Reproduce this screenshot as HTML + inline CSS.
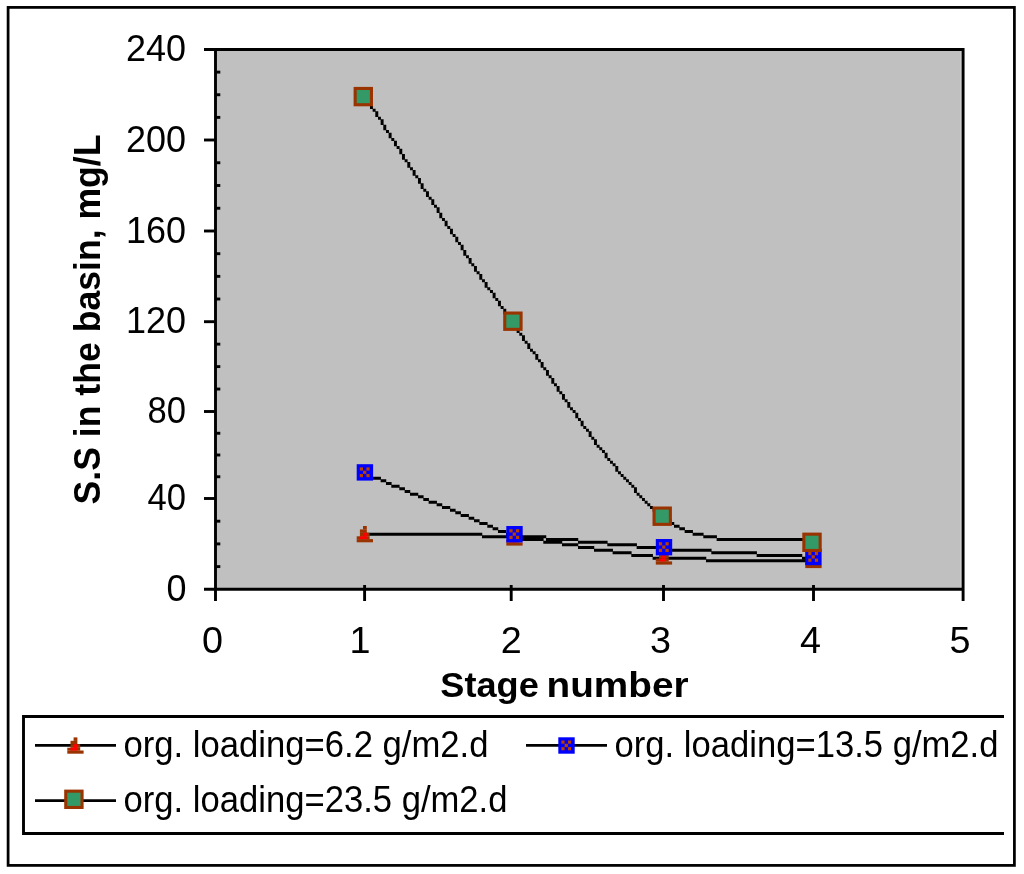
<!DOCTYPE html>
<html lang="en"><head><meta charset="utf-8"><title>S.S in the basin vs stage number</title>
<style>html,body{margin:0;padding:0;background:#fff}svg{display:block}</style></head>
<body>
<svg width="1024" height="874" viewBox="0 0 1024 874">
<rect width="1024" height="874" fill="#fff"/>
<rect x="8.1" y="7.4" width="1006.3" height="858" fill="none" stroke="#000" stroke-width="2.75"/>
<rect x="215.50" y="49.50" width="747.60" height="539.80" fill="#c0c0c0"/>
<rect x="960.5" y="51" width="1.2" height="537" fill="#d6d6d6"/>
<g stroke="#000" stroke-width="2.90" fill="none">
<path d="M204 49.50H963.10V601"/>
<path d="M215.50 48.05V601"/>
<path d="M204 589.30H963.10"/>
<path d="M204 140.00H215.50"/>
<path d="M204 231.00H215.50"/>
<path d="M204 321.70H215.50"/>
<path d="M204 411.50H215.50"/>
<path d="M204 498.50H215.50"/>
<path d="M215.50 566.60H220.3"/>
<path d="M215.50 543.90H220.3"/>
<path d="M215.50 521.20H220.3"/>
<path d="M215.50 476.75H220.3"/>
<path d="M215.50 455.00H220.3"/>
<path d="M215.50 433.25H220.3"/>
<path d="M215.50 389.05H220.3"/>
<path d="M215.50 366.60H220.3"/>
<path d="M215.50 344.15H220.3"/>
<path d="M215.50 299.02H220.3"/>
<path d="M215.50 276.35H220.3"/>
<path d="M215.50 253.68H220.3"/>
<path d="M215.50 208.25H220.3"/>
<path d="M215.50 185.50H220.3"/>
<path d="M215.50 162.75H220.3"/>
<path d="M215.50 117.38H220.3"/>
<path d="M215.50 94.75H220.3"/>
<path d="M215.50 72.12H220.3"/>
<path d="M364.60 585V601"/>
<path d="M511.20 585V601"/>
<path d="M663.50 585V601"/>
<path d="M813.50 585V601"/>
</g>
<path d="M361.97 532.68h120.30v2.97h-120.30zM481.97 535.35h40.30v2.97h-40.30zM521.97 538.02h21.63v2.97h-21.63zM543.30 540.68h18.97v2.97h-18.97zM561.97 543.35h16.30v2.97h-16.30zM577.97 546.02h16.30v2.97h-16.30zM593.97 548.68h18.97v2.97h-18.97zM612.63 551.35h18.97v2.97h-18.97zM631.30 554.02h21.63v2.97h-21.63zM652.63 556.68h53.63v2.97h-53.63zM705.97 559.35h109.63v2.97h-109.63z" fill="#000"/>
<rect x="363.00" y="526.00" width="3.80" height="3.50" fill="#993300"/><rect x="359.90" y="529.40" width="6.90" height="3.50" fill="#993300"/><rect x="359.90" y="532.80" width="9.70" height="3.60" fill="#993300"/><rect x="356.70" y="536.30" width="12.90" height="2.90" fill="#993300"/><rect x="356.70" y="539.10" width="16.30" height="3.20" fill="#993300"/><rect x="363.00" y="532.80" width="3.80" height="3.60" fill="#ff0000"/><rect x="359.90" y="536.30" width="6.90" height="2.85" fill="#ff0000"/>
<rect x="512.60" y="529.30" width="3.80" height="3.50" fill="#993300"/><rect x="509.50" y="532.70" width="6.90" height="3.50" fill="#993300"/><rect x="509.50" y="536.10" width="9.70" height="3.60" fill="#993300"/><rect x="506.30" y="539.60" width="12.90" height="2.90" fill="#993300"/><rect x="506.30" y="542.40" width="16.30" height="3.20" fill="#993300"/><rect x="512.60" y="536.10" width="3.80" height="3.60" fill="#ff0000"/><rect x="509.50" y="539.60" width="6.90" height="2.85" fill="#ff0000"/>
<rect x="662.10" y="548.30" width="3.80" height="3.50" fill="#993300"/><rect x="659.00" y="551.70" width="6.90" height="3.50" fill="#993300"/><rect x="659.00" y="555.10" width="9.70" height="3.60" fill="#993300"/><rect x="655.80" y="558.60" width="12.90" height="2.90" fill="#993300"/><rect x="655.80" y="561.40" width="16.30" height="3.20" fill="#993300"/><rect x="662.10" y="555.10" width="3.80" height="3.60" fill="#ff0000"/><rect x="659.00" y="558.60" width="6.90" height="2.85" fill="#ff0000"/>
<rect x="811.60" y="551.80" width="3.80" height="3.50" fill="#993300"/><rect x="808.50" y="555.20" width="6.90" height="3.50" fill="#993300"/><rect x="808.50" y="558.60" width="9.70" height="3.60" fill="#993300"/><rect x="805.30" y="562.10" width="12.90" height="2.90" fill="#993300"/><rect x="805.30" y="564.90" width="16.30" height="3.20" fill="#993300"/><rect x="811.60" y="558.60" width="3.80" height="3.60" fill="#ff0000"/><rect x="808.50" y="562.10" width="6.90" height="2.85" fill="#ff0000"/>
<path d="M361.97 471.35h5.63v2.97h-5.63zM367.30 474.02h5.63v2.97h-5.63zM372.63 476.68h8.30v2.97h-8.30zM380.63 479.35h5.63v2.97h-5.63zM385.97 482.02h5.63v2.97h-5.63zM391.30 484.68h8.30v2.97h-8.30zM399.30 487.35h5.63v2.97h-5.63zM404.63 490.02h5.63v2.97h-5.63zM409.97 492.68h8.30v2.97h-8.30zM417.97 495.35h5.63v2.97h-5.63zM423.30 498.02h5.63v2.97h-5.63zM428.63 500.68h8.30v2.97h-8.30zM436.63 503.35h5.63v2.97h-5.63zM441.97 506.02h8.30v2.97h-8.30zM449.97 508.68h5.63v2.97h-5.63zM455.30 511.35h5.63v2.97h-5.63zM460.63 514.02h8.30v2.97h-8.30zM468.63 516.68h5.63v2.97h-5.63zM473.97 519.35h5.63v2.97h-5.63zM479.30 522.02h8.30v2.97h-8.30zM487.30 524.68h5.63v2.97h-5.63zM492.63 527.35h5.63v2.97h-5.63zM497.97 530.02h8.30v2.97h-8.30zM505.97 532.68h10.97v2.97h-10.97zM516.63 535.35h29.63v2.97h-29.63zM545.97 538.02h32.30v2.97h-32.30zM577.97 540.68h29.63v2.97h-29.63zM607.30 543.35h29.63v2.97h-29.63zM636.63 546.02h32.30v2.97h-32.30zM668.63 548.68h42.97v2.97h-42.97zM711.30 551.35h45.63v2.97h-45.63zM756.63 554.02h45.63v2.97h-45.63zM801.97 556.68h13.63v2.97h-13.63z" fill="#000"/>
<rect x="356.70" y="464.20" width="16.40" height="16.40" fill="#0000ff"/><rect x="359.80" y="467.40" width="3.20" height="3.20" fill="#b84000"/><rect x="366.40" y="467.40" width="3.20" height="3.20" fill="#b84000"/><rect x="363.10" y="470.70" width="3.20" height="3.20" fill="#b84000"/><rect x="359.80" y="474.00" width="3.20" height="3.20" fill="#b84000"/><rect x="366.40" y="474.00" width="3.20" height="3.20" fill="#b84000"/>
<rect x="506.30" y="526.00" width="16.40" height="16.40" fill="#0000ff"/><rect x="509.40" y="529.20" width="3.20" height="3.20" fill="#b84000"/><rect x="516.00" y="529.20" width="3.20" height="3.20" fill="#b84000"/><rect x="512.70" y="532.50" width="3.20" height="3.20" fill="#b84000"/><rect x="509.40" y="535.80" width="3.20" height="3.20" fill="#b84000"/><rect x="516.00" y="535.80" width="3.20" height="3.20" fill="#b84000"/>
<rect x="655.80" y="539.00" width="16.40" height="16.40" fill="#0000ff"/><rect x="658.90" y="542.20" width="3.20" height="3.20" fill="#b84000"/><rect x="665.50" y="542.20" width="3.20" height="3.20" fill="#b84000"/><rect x="662.20" y="545.50" width="3.20" height="3.20" fill="#b84000"/><rect x="658.90" y="548.80" width="3.20" height="3.20" fill="#b84000"/><rect x="665.50" y="548.80" width="3.20" height="3.20" fill="#b84000"/>
<rect x="805.20" y="548.80" width="16.40" height="16.40" fill="#0000ff"/><rect x="808.30" y="552.00" width="3.20" height="3.20" fill="#b84000"/><rect x="814.90" y="552.00" width="3.20" height="3.20" fill="#b84000"/><rect x="811.60" y="555.30" width="3.20" height="3.20" fill="#b84000"/><rect x="808.30" y="558.60" width="3.20" height="3.20" fill="#b84000"/><rect x="814.90" y="558.60" width="3.20" height="3.20" fill="#b84000"/>
<path d="M361.97 95.35h2.97v2.97h-2.97zM364.63 98.02h2.97v2.97h-2.97zM367.30 100.68h2.97v2.97h-2.97zM369.97 103.35h2.97v2.97h-2.97zM369.97 106.02h2.97v2.97h-2.97zM372.63 108.68h2.97v2.97h-2.97zM375.30 111.35h2.97v2.97h-2.97zM375.30 114.02h2.97v2.97h-2.97zM377.97 116.68h2.97v2.97h-2.97zM380.63 119.35h2.97v2.97h-2.97zM380.63 122.02h2.97v2.97h-2.97zM383.30 124.68h2.97v2.97h-2.97zM383.30 127.35h2.97v2.97h-2.97zM385.97 130.02h2.97v2.97h-2.97zM388.63 132.68h2.97v2.97h-2.97zM388.63 135.35h2.97v2.97h-2.97zM391.30 138.02h2.97v2.97h-2.97zM393.97 140.68h2.97v2.97h-2.97zM393.97 143.35h2.97v2.97h-2.97zM396.63 146.02h2.97v2.97h-2.97zM399.30 148.68h2.97v2.97h-2.97zM399.30 151.35h2.97v2.97h-2.97zM401.97 154.02h2.97v2.97h-2.97zM401.97 156.68h2.97v2.97h-2.97zM404.63 159.35h2.97v2.97h-2.97zM407.30 162.02h2.97v2.97h-2.97zM407.30 164.68h2.97v2.97h-2.97zM409.97 167.35h2.97v2.97h-2.97zM412.63 170.02h2.97v2.97h-2.97zM412.63 172.68h2.97v2.97h-2.97zM415.30 175.35h2.97v2.97h-2.97zM417.97 178.02h2.97v2.97h-2.97zM417.97 180.68h2.97v2.97h-2.97zM420.63 183.35h2.97v2.97h-2.97zM420.63 186.02h2.97v2.97h-2.97zM423.30 188.68h2.97v2.97h-2.97zM425.97 191.35h2.97v2.97h-2.97zM425.97 194.02h2.97v2.97h-2.97zM428.63 196.68h2.97v2.97h-2.97zM431.30 199.35h2.97v2.97h-2.97zM431.30 202.02h2.97v2.97h-2.97zM433.97 204.68h2.97v2.97h-2.97zM436.63 207.35h2.97v2.97h-2.97zM436.63 210.02h2.97v2.97h-2.97zM439.30 212.68h2.97v2.97h-2.97zM439.30 215.35h2.97v2.97h-2.97zM441.97 218.02h2.97v2.97h-2.97zM444.63 220.68h2.97v2.97h-2.97zM444.63 223.35h2.97v2.97h-2.97zM447.30 226.02h2.97v2.97h-2.97zM449.97 228.68h2.97v2.97h-2.97zM449.97 231.35h2.97v2.97h-2.97zM452.63 234.02h2.97v2.97h-2.97zM455.30 236.68h2.97v2.97h-2.97zM455.30 239.35h2.97v2.97h-2.97zM457.97 242.02h2.97v2.97h-2.97zM460.63 244.68h2.97v2.97h-2.97zM460.63 247.35h2.97v2.97h-2.97zM463.30 250.02h2.97v2.97h-2.97zM463.30 252.68h2.97v2.97h-2.97zM465.97 255.35h2.97v2.97h-2.97zM468.63 258.02h2.97v2.97h-2.97zM468.63 260.68h2.97v2.97h-2.97zM471.30 263.35h2.97v2.97h-2.97zM473.97 266.02h2.97v2.97h-2.97zM473.97 268.68h2.97v2.97h-2.97zM476.63 271.35h2.97v2.97h-2.97zM479.30 274.02h2.97v2.97h-2.97zM479.30 276.68h2.97v2.97h-2.97zM481.97 279.35h2.97v2.97h-2.97zM484.63 282.02h2.97v2.97h-2.97zM484.63 284.68h2.97v2.97h-2.97zM487.30 287.35h2.97v2.97h-2.97zM489.97 290.02h2.97v2.97h-2.97zM492.63 292.68h2.97v2.97h-2.97zM492.63 295.35h2.97v2.97h-2.97zM495.30 298.02h2.97v2.97h-2.97zM497.97 300.68h2.97v2.97h-2.97zM497.97 303.35h2.97v2.97h-2.97zM500.63 306.02h2.97v2.97h-2.97zM503.30 308.68h2.97v2.97h-2.97zM503.30 311.35h2.97v2.97h-2.97zM505.97 314.02h2.97v2.97h-2.97zM508.63 316.68h2.97v2.97h-2.97zM511.30 319.35h2.97v2.97h-2.97zM511.30 322.02h2.97v2.97h-2.97zM513.97 324.68h2.97v2.97h-2.97zM516.63 327.35h2.97v2.97h-2.97zM516.63 330.02h2.97v2.97h-2.97zM519.30 332.68h2.97v2.97h-2.97zM521.97 335.35h2.97v2.97h-2.97zM521.97 338.02h2.97v2.97h-2.97zM524.63 340.68h2.97v2.97h-2.97zM527.30 343.35h2.97v2.97h-2.97zM527.30 346.02h2.97v2.97h-2.97zM529.97 348.68h2.97v2.97h-2.97zM532.63 351.35h2.97v2.97h-2.97zM535.30 354.02h2.97v2.97h-2.97zM535.30 356.68h2.97v2.97h-2.97zM537.97 359.35h2.97v2.97h-2.97zM540.63 362.02h2.97v2.97h-2.97zM540.63 364.68h2.97v2.97h-2.97zM543.30 367.35h2.97v2.97h-2.97zM545.97 370.02h2.97v2.97h-2.97zM545.97 372.68h2.97v2.97h-2.97zM548.63 375.35h2.97v2.97h-2.97zM551.30 378.02h2.97v2.97h-2.97zM551.30 380.68h2.97v2.97h-2.97zM553.97 383.35h2.97v2.97h-2.97zM556.63 386.02h2.97v2.97h-2.97zM556.63 388.68h2.97v2.97h-2.97zM559.30 391.35h2.97v2.97h-2.97zM561.97 394.02h2.97v2.97h-2.97zM561.97 396.68h2.97v2.97h-2.97zM564.63 399.35h2.97v2.97h-2.97zM567.30 402.02h2.97v2.97h-2.97zM567.30 404.68h2.97v2.97h-2.97zM569.97 407.35h2.97v2.97h-2.97zM572.63 410.02h2.97v2.97h-2.97zM575.30 412.68h2.97v2.97h-2.97zM575.30 415.35h2.97v2.97h-2.97zM577.97 418.02h2.97v2.97h-2.97zM580.63 420.68h2.97v2.97h-2.97zM580.63 423.35h2.97v2.97h-2.97zM583.30 426.02h2.97v2.97h-2.97zM585.97 428.68h2.97v2.97h-2.97zM588.63 431.35h2.97v2.97h-2.97zM588.63 434.02h2.97v2.97h-2.97zM591.30 436.68h2.97v2.97h-2.97zM593.97 439.35h2.97v2.97h-2.97zM593.97 442.02h2.97v2.97h-2.97zM596.63 444.68h2.97v2.97h-2.97zM599.30 447.35h2.97v2.97h-2.97zM601.97 450.02h2.97v2.97h-2.97zM604.63 452.68h2.97v2.97h-2.97zM604.63 455.35h2.97v2.97h-2.97zM607.30 458.02h2.97v2.97h-2.97zM609.97 460.68h2.97v2.97h-2.97zM612.63 463.35h2.97v2.97h-2.97zM615.30 466.02h2.97v2.97h-2.97zM615.30 468.68h2.97v2.97h-2.97zM617.97 471.35h2.97v2.97h-2.97zM620.63 474.02h2.97v2.97h-2.97zM623.30 476.68h2.97v2.97h-2.97zM625.97 479.35h2.97v2.97h-2.97zM628.63 482.02h2.97v2.97h-2.97zM631.30 484.68h2.97v2.97h-2.97zM633.97 487.35h2.97v2.97h-2.97zM633.97 490.02h2.97v2.97h-2.97zM636.63 492.68h2.97v2.97h-2.97zM639.30 495.35h2.97v2.97h-2.97zM641.97 498.02h2.97v2.97h-2.97zM644.63 500.68h2.97v2.97h-2.97zM647.30 503.35h2.97v2.97h-2.97zM649.97 506.02h2.97v2.97h-2.97zM652.63 508.68h2.97v2.97h-2.97zM655.30 511.35h2.97v2.97h-2.97zM657.97 514.02h5.63v2.97h-5.63zM663.30 516.68h2.97v2.97h-2.97zM665.97 519.35h5.63v2.97h-5.63zM671.30 522.02h2.97v2.97h-2.97zM673.97 524.68h5.63v2.97h-5.63zM679.30 527.35h5.63v2.97h-5.63zM684.63 530.02h8.30v2.97h-8.30zM692.63 532.68h10.97v2.97h-10.97zM703.30 535.35h13.63v2.97h-13.63zM716.63 538.02h90.97v2.97h-90.97zM807.30 540.68h8.30v2.97h-8.30z" fill="#000"/>
<rect x="353.60" y="86.90" width="19.40" height="19.40" fill="#993300"/><rect x="356.70" y="90.00" width="13.20" height="13.20" fill="#339966"/>
<rect x="503.20" y="311.50" width="19.40" height="19.40" fill="#993300"/><rect x="506.30" y="314.60" width="13.20" height="13.20" fill="#339966"/>
<rect x="652.50" y="506.50" width="19.40" height="19.40" fill="#993300"/><rect x="655.60" y="509.60" width="13.20" height="13.20" fill="#339966"/>
<rect x="802.30" y="532.60" width="19.40" height="19.40" fill="#993300"/><rect x="805.40" y="535.70" width="13.20" height="13.20" fill="#339966"/>
<g font-family="'Liberation Sans', Arial, sans-serif" font-size="37.5" fill="#000">
<text x="126.00" y="61.10" textLength="60.0" lengthAdjust="spacingAndGlyphs">240</text>
<text x="126.00" y="151.60" textLength="60.0" lengthAdjust="spacingAndGlyphs">200</text>
<text x="126.00" y="242.60" textLength="60.0" lengthAdjust="spacingAndGlyphs">160</text>
<text x="126.00" y="333.30" textLength="60.0" lengthAdjust="spacingAndGlyphs">120</text>
<text x="147.50" y="423.10" textLength="38.5" lengthAdjust="spacingAndGlyphs">80</text>
<text x="147.50" y="510.10" textLength="38.5" lengthAdjust="spacingAndGlyphs">40</text>
<text x="166.40" y="600.90" textLength="20.0" lengthAdjust="spacingAndGlyphs">0</text>
<text x="201.90" y="652.70" textLength="21.0" lengthAdjust="spacingAndGlyphs">0</text>
<text x="349.50" y="652.70" textLength="21.0" lengthAdjust="spacingAndGlyphs">1</text>
<text x="500.80" y="652.70" textLength="21.0" lengthAdjust="spacingAndGlyphs">2</text>
<text x="649.90" y="652.70" textLength="21.0" lengthAdjust="spacingAndGlyphs">3</text>
<text x="799.90" y="652.70" textLength="21.0" lengthAdjust="spacingAndGlyphs">4</text>
<text x="949.50" y="652.70" textLength="21.0" lengthAdjust="spacingAndGlyphs">5</text>
<text y="697.3" font-weight="bold" font-size="35"><tspan x="440.3" textLength="98.5" lengthAdjust="spacingAndGlyphs">Stage</tspan><tspan x="538.8" textLength="9" lengthAdjust="spacingAndGlyphs"> </tspan><tspan x="546.5" textLength="142" lengthAdjust="spacingAndGlyphs">number</tspan></text>
<text transform="translate(100.2 504.5) rotate(-90)" font-weight="bold" textLength="370" lengthAdjust="spacingAndGlyphs">S.S in the basin, mg/L</text>
<text x="123.50" y="757.00" textLength="365.0" lengthAdjust="spacingAndGlyphs">org. loading=6.2 g/m2.d</text>
<text x="614.50" y="757.00" textLength="384.0" lengthAdjust="spacingAndGlyphs">org. loading=13.5 g/m2.d</text>
<text x="123.50" y="812.20" textLength="384.0" lengthAdjust="spacingAndGlyphs">org. loading=23.5 g/m2.d</text>
</g>
<path d="M1004 716.5H23.5V833.5H1004" fill="none" stroke="#000" stroke-width="2.9"/>
<g stroke="#000" stroke-width="2.8"><path d="M35 745.3H116"/><path d="M526 745.3H607"/><path d="M35 800.6H116"/></g>
<rect x="73.60" y="737.40" width="3.80" height="3.50" fill="#993300"/><rect x="70.50" y="740.80" width="6.90" height="3.50" fill="#993300"/><rect x="70.50" y="744.20" width="9.70" height="3.60" fill="#993300"/><rect x="67.30" y="747.70" width="12.90" height="2.90" fill="#993300"/><rect x="67.30" y="750.50" width="16.30" height="3.20" fill="#993300"/><rect x="73.60" y="744.20" width="3.80" height="3.60" fill="#ff0000"/><rect x="70.50" y="747.70" width="6.90" height="2.85" fill="#ff0000"/>
<rect x="558.30" y="737.30" width="16.40" height="16.40" fill="#0000ff"/><rect x="561.40" y="740.50" width="3.20" height="3.20" fill="#b84000"/><rect x="568.00" y="740.50" width="3.20" height="3.20" fill="#b84000"/><rect x="564.70" y="743.80" width="3.20" height="3.20" fill="#b84000"/><rect x="561.40" y="747.10" width="3.20" height="3.20" fill="#b84000"/><rect x="568.00" y="747.10" width="3.20" height="3.20" fill="#b84000"/>
<rect x="64.20" y="789.60" width="19.40" height="19.40" fill="#993300"/><rect x="67.30" y="792.70" width="13.20" height="13.20" fill="#339966"/>
</svg>
</body></html>
